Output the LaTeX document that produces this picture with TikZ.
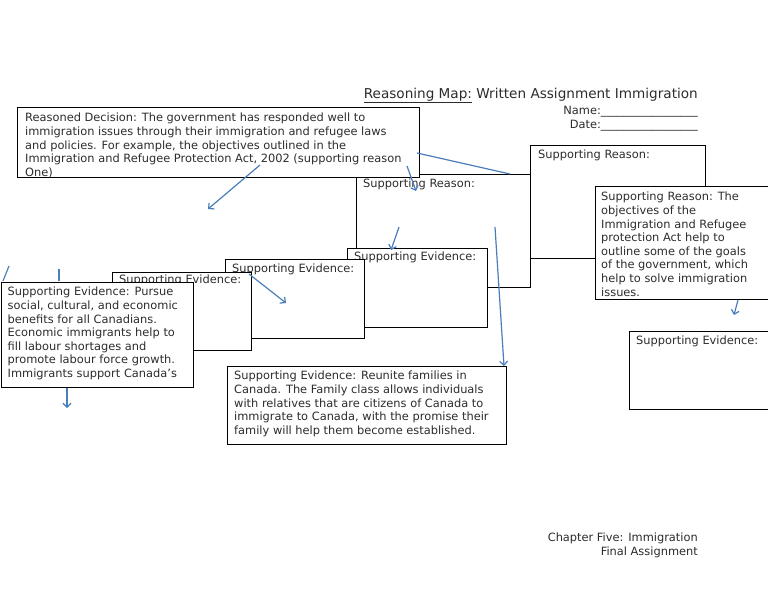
\documentclass[tikz,border=0pt]{standalone}
\usepackage{fontspec}
\setmainfont{DejaVu Sans}
\usetikzlibrary{arrows.meta}

\definecolor{linkblue}{RGB}{74,126,187}
\definecolor{inkgray}{RGB}{45,45,45}

\tikzset{
  card/.style={draw, line width=0.8pt, fill=white, inner sep=0pt, anchor=north west},
  cardtext/.style={anchor=north west, inner sep=0pt, align=left, text=inkgray,
    font=\fontsize{11.4}{13.6}\selectfont},
  headtext/.style={anchor=base east, inner sep=0pt, text=inkgray,
    font=\fontsize{11.4}{13.6}\selectfont},
  link/.style={draw=linkblue, line width=1.2pt, -{Straight Barb[length=4pt,width=8pt]}},
  plainlink/.style={draw=linkblue, line width=1.2pt}
}

\begin{document}
\begin{tikzpicture}[x=1pt, y=-1pt]
   \useasboundingbox[fill=white] (0,0) rectangle (768,594);

   % heading
   \node[headtext, font=\fontsize{13.6}{16}\selectfont] (title) at (698,98)
      {\underline{Reasoning Map:} Written Assignment Immigration};
   \node[headtext] (namefield) at (698,114)
      {Name:\_\_\_\_\_\_\_\_\_\_\_\_\_\_\_\_\_};
   \node[headtext] (datefield) at (698,128)
      {Date:\_\_\_\_\_\_\_\_\_\_\_\_\_\_\_\_\_};

   % reasons
   \node[card, minimum width=175, minimum height=113] (sr2) at (530,145) {};
   \node[cardtext] (sr2text) at ([shift={(8,5)}]sr2.north west) {Supporting Reason:};
   \node[card, minimum width=174, minimum height=113] (sr1) at (356,174) {};
   \node[cardtext] (sr1text) at ([shift={(7,5)}]sr1.north west) {Supporting Reason:};
   \node[card, minimum width=402, minimum height=70] (rd) at (17,107) {};
   \begin{scope}
      \clip (rd.north west) rectangle (rd.south east);
      \node[cardtext] (rdtext) at ([shift={(8,6)}]rd.north west)
         {Reasoned Decision: The government has responded well to\\
          immigration issues through their immigration and refugee laws\\
          and policies. For example, the objectives outlined in the\\
          Immigration and Refugee Protection Act, 2002 (supporting reason\\
          One)};
   \end{scope}
   \node[card, minimum width=180, minimum height=113] (sr3) at (595,186) {};
   \node[cardtext] (sr3text) at ([shift={(6,6)}]sr3.north west)
      {Supporting Reason: The\\objectives of the\\Immigration and Refugee\\
       protection Act help to\\outline some of the goals\\of the government, which\\
       help to solve immigration\\issues.};

   % evidence
   \node[card, minimum width=140, minimum height=79] (se1) at (347,248) {};
   \node[cardtext] (se1text) at ([shift={(7,4)}]se1.north west) {Supporting Evidence:};
   \node[card, minimum width=139, minimum height=79] (se2) at (225,259) {};
   \node[cardtext] (se2text) at ([shift={(7,5)}]se2.north west) {Supporting Evidence:};
   \node[card, minimum width=139, minimum height=78] (se3) at (112,272) {};
   \begin{scope}
      \clip ([yshift=5pt]se3.north west) rectangle (se3.south east);
      \node[cardtext] (se3text) at ([shift={(7,3)}]se3.north west) {Supporting Evidence:};
   \end{scope}
   \node[card, minimum width=192.5, minimum height=105] (se4) at (0.5,282) {};
   \begin{scope}
      \clip (se4.north west) rectangle (se4.south east);
      \node[cardtext] (se4text) at ([shift={(7,5)}]se4.north west)
         {Supporting Evidence: Pursue\\social, cultural, and economic\\
          benefits for all Canadians.\\Economic immigrants help to\\
          fill labour shortages and\\promote labour force growth.\\
          Immigrants support Canada's};
   \end{scope}
   \node[card, minimum width=279, minimum height=78] (se5) at (227,366) {};
   \node[cardtext] (se5text) at ([shift={(7,5)}]se5.north west)
      {Supporting Evidence: Reunite families in\\
       Canada. The Family class allows individuals\\
       with relatives that are citizens of Canada to\\
       immigrate to Canada, with the promise their\\
       family will help them become established.};
   \node[card, minimum width=150, minimum height=78] (se6) at (629,331) {};
   \node[cardtext] (se6text) at ([shift={(7,5)}]se6.north west) {Supporting Evidence:};

   % arrows
   \coordinate (a1) at (417,153);  \coordinate (a2) at (510,174);
   \coordinate (b1) at (407,166);  \coordinate (b2) at (416,191);
   \coordinate (c1) at (260,165);  \coordinate (c2) at (208,209);
   \coordinate (d1) at (399,227);  \coordinate (d2) at (391,250);
   \coordinate (e1) at (495,227);  \coordinate (e2) at (504,366);
   \coordinate (f1) at (249,274);  \coordinate (f2) at (286,303);
   \coordinate (g1) at (9,266);    \coordinate (g2) at (3,281);
   \coordinate (h1) at (59,269);   \coordinate (h2) at (59,281);
   \coordinate (i1) at (67,388);   \coordinate (i2) at (67,408);
   \coordinate (j1) at (738,300);  \coordinate (j2) at (734,315);
   \draw[plainlink] (a1) -- (a2);
   \draw[link] (b1) -- (b2);
   \draw[link] (c1) -- (c2);
   \draw[link] (d1) -- (d2);
   \draw[link] (e1) -- (e2);
   \draw[link] (f1) -- (f2);
   \draw[plainlink] (g1) -- (g2);
   \draw[plainlink] (h1) -- (h2);
   \draw[link] (i1) -- (i2);
   \draw[link] (j1) -- (j2);

   % footer
   \node[headtext] (chapter) at (698,541) {Chapter Five: Immigration};
   \node[headtext] (final) at (698,555) {Final Assignment};
\end{tikzpicture}
\end{document}
